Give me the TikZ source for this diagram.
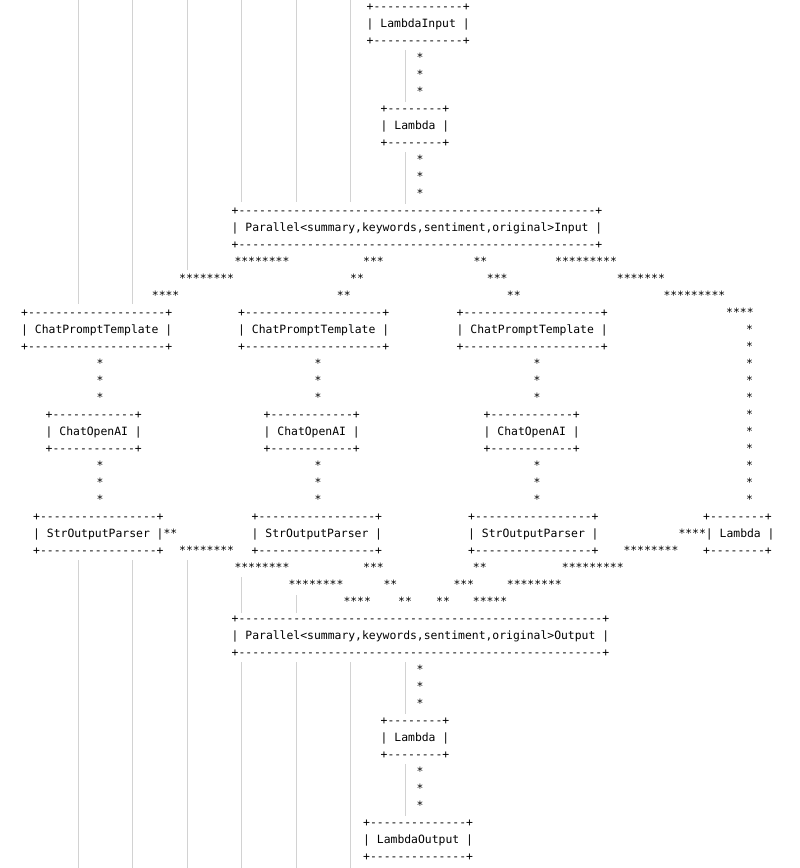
\documentclass[tikz,border=0pt]{standalone}
\usepackage{fontspec}
\setmonofont{DejaVu Sans Mono}
\usepackage{tikz}
\usetikzlibrary{backgrounds}
\tikzstyle{ascii}=[anchor=west,inner sep=0pt,text height=8pt,text depth=2.5pt,font=\ttfamily\fontsize{11.4}{17}\selectfont]
\tikzstyle{guide}=[draw=gray!35,line width=0.8pt]
\newcommand{\row}[4]{
	\node[ascii] (#1) at (#2,{8+17*(#3-1)}) {#4};
}
\newcommand{\guideline}[4]{
	\coordinate (#1a) at (#2,#3);
	\coordinate (#1b) at (#2,#4);
	\draw[guide] (#1a) -- (#1b);
}
\begin{document}
\begin{tikzpicture}[x=1pt,y=-1pt]
	\useasboundingbox (0,0) rectangle (800,868);
	% guides
	\guideline{ga}{78}{0}{304}
	\guideline{gb}{132}{0}{304}
	\guideline{gc}{187}{0}{270}
	\guideline{gd}{241}{0}{202}
	\guideline{ge}{296}{0}{202}
	\guideline{gf}{350}{0}{202}
	\guideline{gg}{405}{50}{102}
	\guideline{gh}{405}{152}{204}
	\guideline{gi}{78}{560}{868}
	\guideline{gj}{132}{560}{868}
	\guideline{gk}{187}{560}{868}
	\guideline{gl}{241}{577}{613}
	\guideline{gm}{296}{595}{613}
	\guideline{gn}{241}{662}{868}
	\guideline{go}{296}{662}{868}
	\guideline{gp}{350}{662}{868}
	\guideline{gq}{405}{662}{714}
	\guideline{gr}{405}{764}{816}
	% LambdaInput
	\row{inT}{366.5}{1}{+-------------+}
	\row{inM}{366.5}{2}{| LambdaInput |}
	\row{inB}{366.5}{3}{+-------------+}
	\row{sa}{416.5}{4}{*}
	\row{sb}{416.5}{5}{*}
	\row{sc}{416.5}{6}{*}
	\row{laT}{380.5}{7}{+--------+}
	\row{laM}{380.5}{8}{| Lambda |}
	\row{laB}{380.5}{9}{+--------+}
	\row{sd}{416.5}{10}{*}
	\row{se}{416.5}{11}{*}
	\row{sf}{416.5}{12}{*}
	% Parallel input
	\row{piT}{231.5}{13}{+----------------------------------------------------+}
	\row{piM}{231.5}{14}{| Parallel<summary,keywords,sentiment,original>Input |}
	\row{piB}{231.5}{15}{+----------------------------------------------------+}
	\row{fa1}{234.3}{16}{********}
	\row{fa2}{363}{16}{***}
	\row{fa3}{473.3}{16}{**}
	\row{fa4}{555}{16}{*********}
	\row{fb1}{179}{17}{********}
	\row{fb2}{350}{17}{**}
	\row{fb3}{486.7}{17}{***}
	\row{fb4}{616.7}{17}{*******}
	\row{fc1}{151.7}{18}{****}
	\row{fc2}{336.7}{18}{**}
	\row{fc3}{506.7}{18}{**}
	\row{fc4}{663.3}{18}{*********}
	% ChatPromptTemplate row
	\foreach \nm/\x in {cpa/21,cpb/238,cpc/456.5}{
		\row{\nm T}{\x}{19}{+--------------------+}
		\row{\nm M}{\x}{20}{| ChatPromptTemplate |}
		\row{\nm B}{\x}{21}{+--------------------+}
	}
	\row{rs0}{726}{19}{****}
	\foreach \i in {20,...,30}{
		\row{rs\i}{746}{\i}{*}
	}
	\foreach \nm/\x in {sta/96.5,stb/314.5,stc/533.5}{
		\foreach \i in {22,23,24,28,29,30}{
			\row{\nm\i}{\x}{\i}{*}
		}
	}
	% ChatOpenAI row
	\foreach \nm/\x in {coa/45.5,cob/263.5,coc/483.5}{
		\row{\nm T}{\x}{25}{+------------+}
		\row{\nm M}{\x}{26}{| ChatOpenAI |}
		\row{\nm B}{\x}{27}{+------------+}
	}
	% StrOutputParser row
	\row{spaT}{33}{31}{+-----------------+}
	\row{spaM}{33}{32}{| StrOutputParser |**}
	\row{spaB}{33}{33}{+-----------------+}
	\foreach \nm/\x in {spb/251.5,spc/468}{
		\row{\nm T}{\x}{31}{+-----------------+}
		\row{\nm M}{\x}{32}{| StrOutputParser |}
		\row{\nm B}{\x}{33}{+-----------------+}
	}
	\row{lrT}{703}{31}{+--------+}
	\row{lrM}{678.3}{32}{****| Lambda |}
	\row{lrB}{703}{33}{+--------+}
	\row{ga1}{179}{33}{********}
	\row{ga2}{623.3}{33}{********}
	\row{gb1}{234.3}{34}{********}
	\row{gb2}{363}{34}{***}
	\row{gb3}{472.7}{34}{**}
	\row{gb4}{561.7}{34}{*********}
	\row{gc1}{288.3}{35}{********}
	\row{gc2}{383.3}{35}{**}
	\row{gc3}{453.3}{35}{***}
	\row{gc4}{506.7}{35}{********}
	\row{gd1}{343.3}{36}{****}
	\row{gd2}{398}{36}{**}
	\row{gd3}{436}{36}{**}
	\row{gd4}{472.7}{36}{*****}
	% Parallel output
	\row{poT}{231.5}{37}{+-----------------------------------------------------+}
	\row{poM}{231.5}{38}{| Parallel<summary,keywords,sentiment,original>Output |}
	\row{poB}{231.5}{39}{+-----------------------------------------------------+}
	\row{sg}{416.5}{40}{*}
	\row{sh}{416.5}{41}{*}
	\row{si}{416.5}{42}{*}
	\row{lbT}{380.5}{43}{+--------+}
	\row{lbM}{380.5}{44}{| Lambda |}
	\row{lbB}{380.5}{45}{+--------+}
	\row{sj}{416.5}{46}{*}
	\row{sk}{416.5}{47}{*}
	\row{sl}{416.5}{48}{*}
	\row{outT}{363}{49}{+--------------+}
	\row{outM}{363}{50}{| LambdaOutput |}
	\row{outB}{363}{51}{+--------------+}
\end{tikzpicture}
\end{document}
